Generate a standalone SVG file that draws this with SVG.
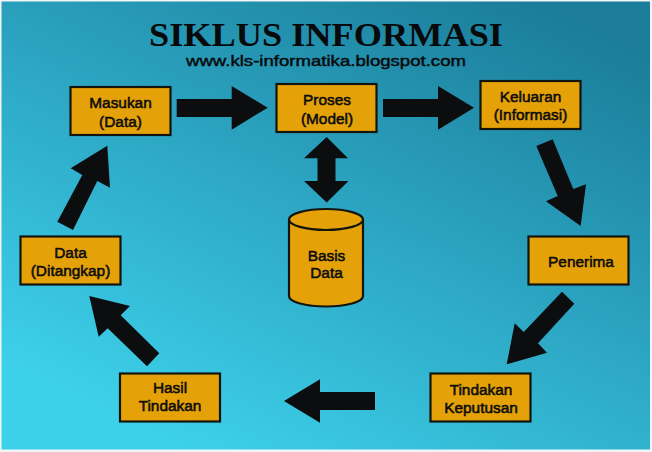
<svg xmlns="http://www.w3.org/2000/svg" width="652" height="452" viewBox="0 0 652 452">
<style>
.n{fill:#e5a208;stroke:#14140f;stroke-width:2.2}
.t{font-family:"Liberation Sans",Arial,sans-serif;font-size:15.4px;fill:#0c0c0c;text-anchor:middle;stroke:#0c0c0c;stroke-width:.55}
.a{fill:#0b0d0f}
</style>
<defs>
<linearGradient id="bg" gradientUnits="userSpaceOnUse" x1="470" y1="-30" x2="230" y2="470">
<stop offset="0" stop-color="#1b7d99"/>
<stop offset="0.5" stop-color="#2ca6c3"/>
<stop offset="1" stop-color="#3dd0ea"/>
</linearGradient>
</defs>
<rect width="652" height="452" fill="#f2f6f7"/>
<rect x="1.5" y="1.5" width="648.5" height="448" fill="url(#bg)"/>
<g id="title">
<text x="326" y="46" font-family="'Liberation Serif',serif" font-size="33" font-weight="bold" text-anchor="middle" textLength="354" lengthAdjust="spacingAndGlyphs" fill="#07090b">SIKLUS INFORMASI</text>
<text x="326" y="65.5" font-family="'Liberation Sans',Arial,sans-serif" font-size="15.5" text-anchor="middle" textLength="280" lengthAdjust="spacingAndGlyphs" fill="#07090b" stroke="#07090b" stroke-width=".45">www.kls-informatika.blogspot.com</text>
</g>
<g id="connectors">
<polygon class="a" points="176.7,99 231.7,99 231.7,86 267.7,107.7 231.7,129.7 231.7,117 176.7,117"/>
<polygon class="a" points="383,99 438,99 438,86 474,107.7 438,129.7 438,117 383,117"/>
<polygon class="a" points="536.3,146 552.7,139.3 573.3,189 586,184.3 580.7,226 546,201.3 557.7,196"/>
<polygon class="a" points="562,291.7 574.3,303.7 538,343.3 547,352.7 506.7,364.3 514.7,323.3 523.7,332"/>
<polygon class="a" points="375,392 320,392 320,379.3 284,401 320,422.7 320,410 375,410"/>
<polygon class="a" points="159.3,353.3 147,366.3 107.7,328.3 98.7,336.7 89.3,296 130,306 120.7,315.3"/>
<polygon class="a" points="73,230 57.3,221.7 82.3,175 70.7,168.3 107.3,145.7 110,187.7 97.3,181"/>
<polygon class="a" points="326.7,137 348,158.3 335.5,158.3 335.5,181 348.5,181 326.7,202.5 304,181 317.5,181 317.5,158.3 304,158.3"/>
</g>
<g id="masukan"><rect class="n" x="70.5" y="87" width="100" height="48"/><text class="t" x="120.5" y="108">Masukan</text><text class="t" x="120.5" y="126.5">(Data)</text></g>
<g id="proses"><rect class="n" x="276.5" y="84" width="100" height="48"/><text class="t" x="327" y="105">Proses</text><text class="t" x="327" y="124">(Model)</text></g>
<g id="keluaran"><rect class="n" x="480.5" y="81" width="100" height="48"/><text class="t" x="530.5" y="102">Keluaran</text><text class="t" x="530.5" y="120">(Informasi)</text></g>
<g id="data"><rect class="n" x="20.5" y="236.5" width="100" height="48"/><text class="t" x="70.5" y="258">Data</text><text class="t" x="70.5" y="276">(Ditangkap)</text></g>
<g id="penerima"><rect class="n" x="528.5" y="236.5" width="100" height="48"/><text class="t" x="581" y="267">Penerima</text></g>
<g id="tindakan"><rect class="n" x="430.5" y="373.5" width="100" height="48"/><text class="t" x="481" y="395">Tindakan</text><text class="t" x="481" y="413">Keputusan</text></g>
<g id="hasil"><rect class="n" x="120" y="373.5" width="100" height="48"/><text class="t" x="170" y="393">Hasil</text><text class="t" x="170" y="411">Tindakan</text></g>
<g id="basis">
<path class="n" d="M289 219.5V296C289 302 306 306.5 326 306.5S363 302 363 296V219.5"/>
<ellipse class="n" cx="326" cy="219.5" rx="37" ry="10.5"/>
<text class="t" x="326.5" y="261">Basis</text><text class="t" x="326.5" y="278">Data</text>
</g>
</svg>
